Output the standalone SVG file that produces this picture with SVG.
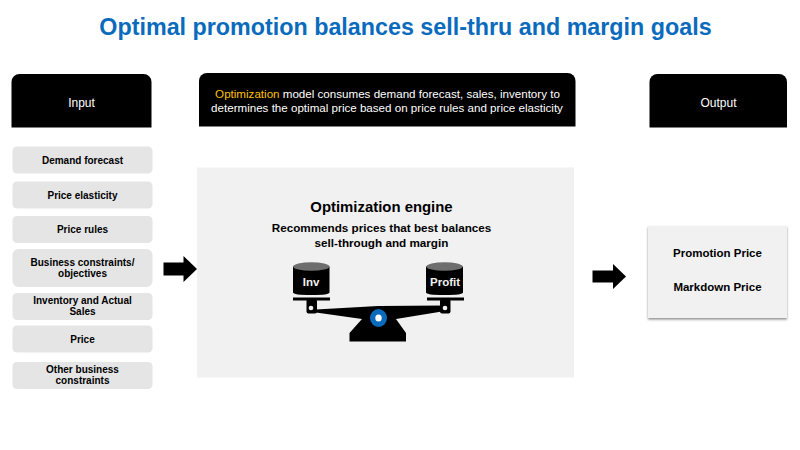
<svg xmlns="http://www.w3.org/2000/svg" width="800" height="450" viewBox="0 0 800 450">
<defs>
<filter id="ds" x="-5%" y="-5%" width="110%" height="115%"><feDropShadow dx="0" dy="1.5" stdDeviation="1" flood-color="#000" flood-opacity="0.45"/></filter>
</defs>
<style>
text{font-family:"Liberation Sans",Arial,sans-serif;text-anchor:middle}
.hd{fill:#000}
.ht{fill:#fff;font-size:12px}
.hl{fill:#fff;font-size:11.6px}
.ib{fill:#e5e5e5}
.it{fill:#000;font-size:10px;font-weight:bold}
.ot{fill:#000;font-size:11.5px;font-weight:bold}
</style>
<rect width="800" height="450" fill="#fff"/>
<text id="title" x="405.500" y="35" font-size="23.300" font-weight="bold" fill="#0a6bbd">Optimal promotion balances sell-thru and margin goals</text>

<g id="input-header"><path class="hd" d="M11.500 127.500V82a8 8 0 0 1 8-8H143.500a8 8 0 0 1 8 8V127.500Z"/><text class="ht" x="81.500" y="106.500">Input</text></g>
<g id="opt-header"><path class="hd" d="M199 126.500V81a8 8 0 0 1 8-8H567.500a8 8 0 0 1 8 8V126.500Z"/>
<text class="hl" x="387.500" y="98"><tspan fill="#ffc000">Optimization</tspan> model consumes demand forecast, sales, inventory to</text>
<text class="hl" x="387" y="112">determines the optimal price based on price rules and price elasticity</text></g>
<g id="output-header"><path class="hd" d="M649.500 127.500V82a8 8 0 0 1 8-8H779a8 8 0 0 1 8 8V127.500Z"/><text class="ht" x="718.500" y="106.500">Output</text></g>

<g id="demand"><rect class="ib" x="12.500" y="146.500" width="140" height="27" rx="4.500"/><text class="it" x="82.500" y="163.500">Demand forecast</text></g>
<g id="elasticity"><rect class="ib" x="12.500" y="181.500" width="140" height="27" rx="4.500"/><text class="it" x="82.500" y="198.500">Price elasticity</text></g>
<g id="rules"><rect class="ib" x="12.500" y="216" width="140" height="27" rx="4.500"/><text class="it" x="82.500" y="233">Price rules</text></g>
<g id="constraints"><rect class="ib" x="12.500" y="249" width="140" height="38" rx="6"/><text class="it" x="82.500" y="266">Business constraints/</text><text class="it" x="82.500" y="277">objectives</text></g>
<g id="inventory"><rect class="ib" x="12.500" y="293" width="140" height="27" rx="4.500"/><text class="it" x="82.500" y="304">Inventory and Actual</text><text class="it" x="82.500" y="315">Sales</text></g>
<g id="price"><rect class="ib" x="12.500" y="325.500" width="140" height="27" rx="4.500"/><text class="it" x="82.500" y="342.500">Price</text></g>
<g id="other"><rect class="ib" x="12.500" y="362" width="140" height="27" rx="4.500"/><text class="it" x="82.500" y="373">Other business</text><text class="it" x="82.500" y="384">constraints</text></g>

<g id="connectors">
<path d="M163.500 262.500H183.500V256L197 269L183.500 282V275.500H163.500Z" fill="#000"/>
<path d="M592.500 270.500H613V264L626 276.500L613 289V282.500H592.500Z" fill="#000"/>
</g>

<g id="engine">
<rect x="197" y="167.500" width="377" height="210" fill="#f1f1f1"/>
<text x="381.500" y="212" font-size="14.900" font-weight="bold" fill="#000">Optimization engine</text>
<text x="381.500" y="232" font-size="11.700" font-weight="bold" fill="#000">Recommends prices that best balances</text>
<text x="381.500" y="247" font-size="11.700" font-weight="bold" fill="#000">sell-through and margin</text>
<g id="scale">
<path d="M293 266.500V292.500Q293 295 311.500 295Q329.500 295 329.500 292.500V266.500Z" fill="#000"/>
<ellipse cx="311.300" cy="266.500" rx="18.200" ry="4.300" fill="#6e6e6e"/>
<path d="M426 266.500V292.500Q426 295 444.500 295Q463 295 463 292.500V266.500Z" fill="#000"/>
<ellipse cx="444.500" cy="266.500" rx="18.200" ry="4.300" fill="#6e6e6e"/>
<rect x="293" y="297.500" width="37" height="3" fill="#000"/>
<rect x="427" y="297.500" width="37" height="3" fill="#000"/>
<rect x="306.500" y="299" width="10.500" height="14.500" rx="2" fill="#000"/>
<rect x="440" y="299" width="10.500" height="14.500" rx="2" fill="#000"/>
<path d="M316 309.500L378 306L445 305.500V311L396 319L406 333V341.500H349.500V333L362 319L316 312.500Z" fill="#000"/>
<circle cx="311" cy="308" r="2.300" fill="#f1f1f1"/>
<circle cx="445" cy="308" r="2.300" fill="#f1f1f1"/>
<ellipse cx="378.500" cy="318" rx="8.500" ry="9" fill="#0a6bbd"/>
<ellipse cx="378.500" cy="318" rx="3.200" ry="3.600" fill="#fff"/>
<text x="311" y="286" font-size="11.500" font-weight="bold" fill="#f1f1f1">Inv</text>
<text x="445" y="286" font-size="11.500" font-weight="bold" fill="#f1f1f1">Profit</text>
</g>
</g>

<g id="output-box">
<rect x="648" y="226" width="139" height="92" fill="#f1f1f1" filter="url(#ds)"/>
<text class="ot" x="717.500" y="257">Promotion Price</text>
<text class="ot" x="717.500" y="291">Markdown Price</text>
</g>
</svg>
